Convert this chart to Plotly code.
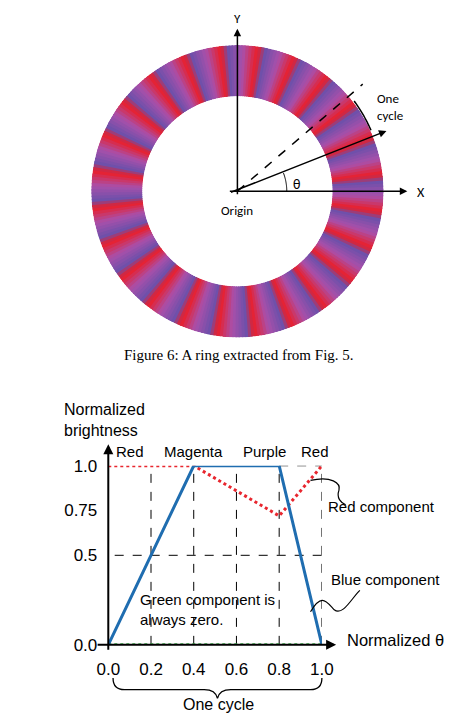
import numpy as np
import plotly.graph_objects as go

W, H = 474, 715

# data (one normalized cycle)
theta_pts = [0.0, 0.4, 0.8, 1.0]
red_pts = [1.0, 1.0, 0.72, 1.0]
blue_pts = [0.0, 1.0, 1.0, 0.0]
green_pts = [0.0, 0.0, 0.0, 0.0]
x_ticks = [0.0, 0.2, 0.4, 0.6, 0.8, 1.0]
x_tick_text = ["0.0", "0.2", "0.4", "0.6", "0.8", "1.0"]
y_ticks = [0.0, 0.5, 0.75, 1.0]
y_tick_text = ["0.0", "0.5", "0.75", "1.0"]
color_names = ["Red", "Magenta", "Purple", "Red"]
color_name_pos = [0.1, 0.4, 0.73, 0.97]
n_cycles = 24
steps_per_cycle = 12


# ring part (top) and chart part (bottom) use slightly different offsets
def px(x):
    return (x - 6) / W


def py(y):
    return 1 - (y - 6) / H


def cx_(x):
    return (x - 12) / W


def cy_(y):
    return 1 - (y + 1) / H


FONT = "Liberation Sans, Arial"
CAL = "Carlito, Calibri, Liberation Sans"

fig = go.Figure()

# ---- ring (polar subplot) ----
width_deg = 360 / (n_cycles * steps_per_cycle)
thetas, colors = [], []
for i in range(n_cycles * steps_per_cycle):
    f = (i % steps_per_cycle + 0.5) / steps_per_cycle
    r = np.interp(f, theta_pts, red_pts)
    b = np.interp(f, theta_pts, blue_pts)
    # muted like the printed picture
    rr = int(235 - 65 * b - 215 * (1 - r))
    gg = int(30 + 50 * b)
    bb = int(40 + 130 * b)
    thetas.append(i * width_deg + width_deg / 2 + 22)
    colors.append(f"rgb({rr},{gg},{bb})")
fig.add_trace(go.Barpolar(
    r=[1] * len(thetas), theta=thetas, width=[width_deg * 1.4] * len(thetas),
    marker=dict(color=colors, line=dict(width=0)), showlegend=False, hoverinfo="skip",
))

# ---- brightness chart ----
fig.add_trace(go.Scatter(x=theta_pts, y=green_pts, mode="lines",
                         line=dict(color="#3cb44b", width=3, dash="dot"), showlegend=False))
fig.add_trace(go.Scatter(x=theta_pts, y=red_pts, mode="lines",
                         line=dict(color="#e8262e", width=3, dash="dot"), showlegend=False))
fig.add_trace(go.Scatter(x=theta_pts, y=blue_pts, mode="lines",
                         line=dict(color="#1f6db0", width=3), showlegend=False))

shapes = []
dash = dict(color="black", width=1, dash="dash")
for xv in x_ticks[1:]:
    shapes.append(dict(type="line", xref="x", yref="y", x0=xv, x1=xv, y0=0, y1=1, line=dash, layer="below"))
shapes.append(dict(type="line", xref="x", yref="y", x0=0.03, x1=1.0, y0=0.5, y1=0.5, line=dash, layer="below"))
shapes.append(dict(type="line", xref="x", yref="y", x0=0.8, x1=1.0, y0=1.0, y1=1.0, line=dash, layer="below"))

# brace under x axis
brace = (f"M {cx_(110)},{cy_(678)} Q {cx_(110)},{cy_(690)} {cx_(122)},{cy_(690)} "
         f"L {cx_(206)},{cy_(690)} Q {cx_(218)},{cy_(690)} {cx_(220)},{cy_(699)} "
         f"Q {cx_(222)},{cy_(690)} {cx_(234)},{cy_(690)} L {cx_(318)},{cy_(690)} "
         f"Q {cx_(330)},{cy_(690)} {cx_(330)},{cy_(678)}")
shapes.append(dict(type="path", xref="paper", yref="paper", path=brace, line=dict(color="black", width=1.3)))
# leader squiggles
sq_red = (f"M {cx_(318)},{cy_(475)} C {cx_(340)},{cy_(470)} {cx_(350)},{cy_(478)} {cx_(348)},{cy_(485)} "
          f"C {cx_(345)},{cy_(493)} {cx_(350)},{cy_(498)} {cx_(355)},{cy_(500)}")
sq_blue = (f"M {cx_(318)},{cy_(610)} C {cx_(330)},{cy_(590)} {cx_(335)},{cy_(600)} {cx_(343)},{cy_(608)} "
           f"C {cx_(352)},{cy_(615)} {cx_(362)},{cy_(595)} {cx_(370)},{cy_(588)}")
for p in (sq_red, sq_blue):
    shapes.append(dict(type="path", xref="paper", yref="paper", path=p, line=dict(color="black", width=1.2)))

# ring arcs: one cycle and theta
cx, cy = 235, 185


def arc(rad, a0, a1, n=20):
    a = np.radians(np.linspace(a0, a1, n))
    pts = [(px(cx + rad * np.cos(t)), py(cy - rad * np.sin(t))) for t in a]
    return "M " + " L ".join(f"{x},{y}" for x, y in pts)


shapes.append(dict(type="path", xref="paper", yref="paper", path=arc(154, 24, 37), line=dict(color="black", width=1.5)))
shapes.append(dict(type="path", xref="paper", yref="paper", path=arc(52, 0, 21), line=dict(color="black", width=1)))
shapes.append(dict(type="line", xref="paper", yref="paper", x0=px(cx), y0=py(cy), x1=px(367), y1=py(75),
                   line=dict(color="black", width=1.5, dash="dash")))

ann = []


def arrow(x0, y0, x1, y1, width=1.5, fx=px, fy=py):
    ann.append(dict(xref="paper", yref="paper", axref="pixel", ayref="pixel",
                    x=fx(x1), y=fy(y1), ax=x0 - x1, ay=y0 - y1, text="", showarrow=True,
                    arrowhead=2, arrowsize=1, arrowwidth=width, arrowcolor="black"))


def text(x, y, s, size=15, xanchor="left", family=FONT, fx=px, fy=py):
    ann.append(dict(xref="paper", yref="paper", x=fx(x), y=fy(y), text=s, showarrow=False,
                    xanchor=xanchor, yanchor="middle", align="left",
                    font=dict(family=family, size=size, color="black")))


# ring axes
arrow(cx, cy, cx, 18)
arrow(cx, cy, 414, cy)
arrow(cx, cy, 392, 123)
text(cx, 8, "Y", 13, "center", CAL)
text(428, 186, "X", 14, "center", CAL)
text(235, 205, "Origin", 13, "center", CAL)
text(297, 178, "θ", 14, "center", CAL)
text(380, 98, "One<br>cycle", 13, "left", CAL)
text(237, 353, "Figure 6: A ring extracted from Fig. 5.", 15, "center", "Liberation Serif, Times New Roman")

# chart axes
C = dict(fx=cx_, fy=cy_)
arrow(105, 645, 105, 438, 2, **C)
arrow(105, 644, 345, 644, 2, **C)
text(56, 413, "Normalized<br>brightness", 16, **C)
for name, pos in zip(color_names, color_name_pos):
    ann.append(dict(xref="x", yref="paper", x=pos, y=cy_(445), text=name, showarrow=False,
                    xanchor="center", font=dict(family=FONT, size=15, color="black")))
text(334, 502, "Red component", 15, **C)
text(338, 577, "Blue component", 15, **C)
text(136, 608, "Green component is<br>always zero.", 15, **C)
text(354, 639, "Normalized θ", 16.5, **C)
text(221, 705, "One cycle", 16, "center", **C)

fig.update_layout(
    width=W, height=H, margin=dict(l=0, r=0, t=0, b=0),
    paper_bgcolor="white", plot_bgcolor="rgba(0,0,0,0)",
    polar=dict(domain=dict(x=[px(235 - 154), px(235 + 154)], y=[py(185 + 154), py(185 - 154)]),
               hole=0.65, bgcolor="rgba(0,0,0,0)",
               radialaxis=dict(visible=False, range=[0, 1]),
               angularaxis=dict(visible=False, direction="counterclockwise", rotation=0)),
    xaxis=dict(domain=[cx_(105), cx_(330)], range=[0, 1], showgrid=False, zeroline=False,
               tickvals=x_ticks, ticktext=x_tick_text, ticks="", ticklabelstandoff=12,
               tickfont=dict(family=FONT, size=17, color="black")),
    yaxis=dict(domain=[cy_(644), cy_(460)], range=[0, 1], showgrid=False, zeroline=False,
               tickvals=y_ticks, ticktext=y_tick_text, ticks="", ticklabelstandoff=10,
               tickfont=dict(family=FONT, size=17, color="black")),
    shapes=shapes, annotations=ann, bargap=0,
)

fig.write_html("out.html")
